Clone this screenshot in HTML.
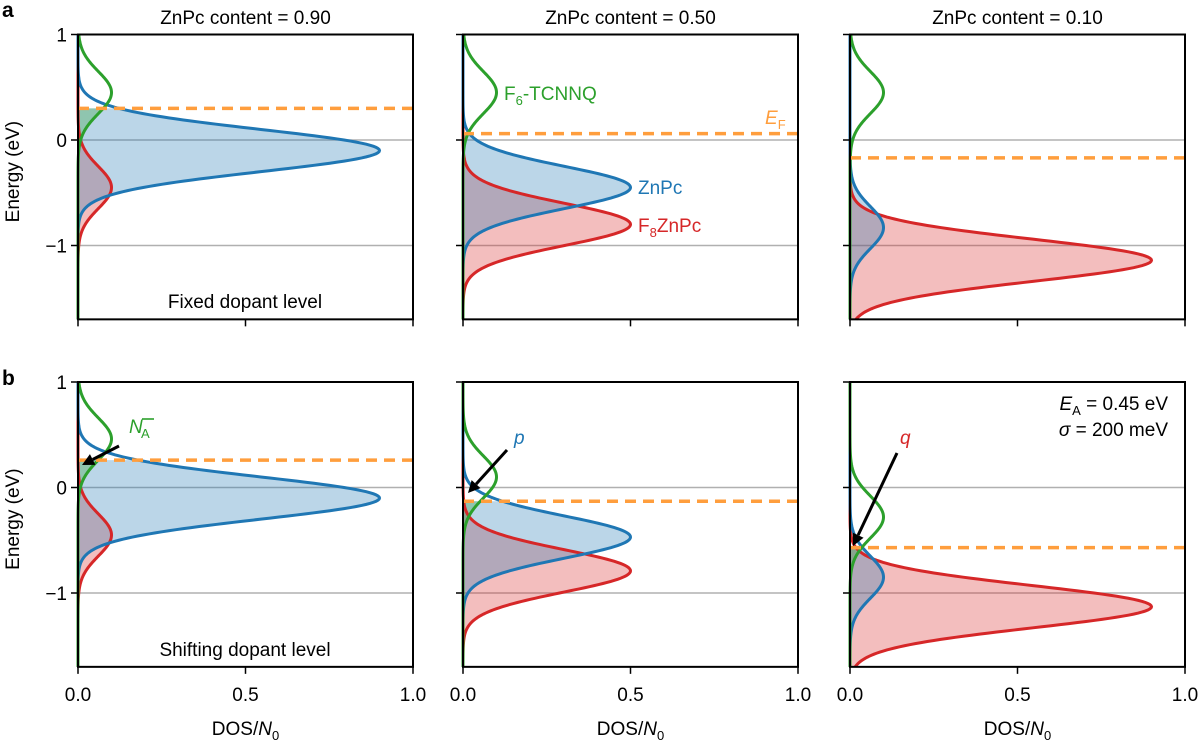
<!DOCTYPE html>
<html><head><meta charset="utf-8"><style>
body{margin:0;background:#fff}
svg{display:block;font-family:"Liberation Sans",Arial,sans-serif}
</style></head><body>
<svg id="fig" width="1200" height="742" viewBox="0 0 1200 742" xmlns="http://www.w3.org/2000/svg"></svg>
<script>
const contents = ["0.90", "0.50", "0.10"];
const znpcAmp = [[0.9, 0.5, 0.1], [0.9, 0.5, 0.1]];
const znpcE = [[-0.1, -0.45, -0.83], [-0.1, -0.47, -0.85]];
const f8Amp = [[0.1, 0.5, 0.9], [0.1, 0.5, 0.9]];
const f8E = [[-0.45, -0.8, -1.14], [-0.45, -0.79, -1.13]];
const dopAmp = [[0.1, 0.1, 0.1], [0.1, 0.1, 0.1]];
const dopE = [[0.45, 0.45, 0.45], [0.46, 0.1, -0.28]];
const fermiE = [[0.3, 0.06, -0.17], [0.26, -0.13, -0.57]];
const sigma = 0.2;
const yTicks = [1, 0, -1];
const yTickLabels = ["1", "0", "\u22121"];
const xTicks = [0, 0.5, 1];
const xTickLabels = ["0.0", "0.5", "1.0"];

const svg = document.getElementById('fig');
const NS = 'http://www.w3.org/2000/svg';
function mk(tag, attrs, parent) {
  const e = document.createElementNS(NS, tag);
  for (const k in attrs) e.setAttribute(k, attrs[k]);
  (parent || svg).appendChild(e);
  return e;
}
const FS = 19;
const colX0 = [78, 463, 850], colW = 335;
const rowY0 = [140, 487.5], pxPerEV = 105.5;
const yTop = 1, yBot = -1.7;
function gauss(E, a, e0) { return a * Math.exp(-(E - e0) * (E - e0) / (2 * sigma * sigma)); }

for (let r = 0; r < 2; r++) {
  for (let c = 0; c < 3; c++) {
    const x0 = colX0[c];
    const X = v => x0 + v * colW;
    const Y = e => rowY0[r] - e * pxPerEV;
    const g = mk('g', {});
    
    
    [0, -1].forEach(v => {
      const l = mk('line', {x1: X(0), x2: X(1), y1: Y(v), y2: Y(v), stroke: '#b0b0b0', 'stroke-width': 1.5}, g);
      
      
    });
    const series = [
      {a: f8Amp[r][c], e: f8E[r][c], col: '#d62728', fill: 'rgba(214,39,40,0.3)', n: 'f8znpc'},
      {a: znpcAmp[r][c], e: znpcE[r][c], col: '#1f77b4', fill: 'rgba(31,119,180,0.3)', n: 'znpc'},
      {a: dopAmp[r][c], e: dopE[r][c], col: '#2ca02c', fill: 'rgba(44,160,44,0.3)', n: 'f6tcnnq'}
    ];
    const ef = fermiE[r][c];
    series.forEach(s => {
      let d = 'M' + X(0) + ',' + Y(ef);
      for (let E = ef; E >= yBot - 1e-9; E -= 0.01) d += 'L' + X(gauss(E, s.a, s.e)).toFixed(2) + ',' + Y(E).toFixed(2);
      d += 'L' + X(0) + ',' + Y(yBot) + 'Z';
      const f = mk('path', {d: d, fill: s.fill, stroke: 'none'}, g);
      
      
    });
    series.forEach(s => {
      let d = '';
      for (let E = yTop; E >= yBot - 1e-9; E -= 0.01) d += (d ? 'L' : 'M') + X(gauss(E, s.a, s.e)).toFixed(2) + ',' + Y(E).toFixed(2);
      const p = mk('path', {d: d, fill: 'none', stroke: s.col, 'stroke-width': 3}, g);
      
      
    });
    const fl = mk('line', {x1: X(0), x2: X(1), y1: Y(ef), y2: Y(ef), stroke: '#ff9e3d', 'stroke-width': 3.5, 'stroke-dasharray': '11,7'}, g);
    
    
    const fr = mk('rect', {x: X(0), y: Y(yTop), width: colW, height: (yTop - yBot) * pxPerEV, fill: 'none', stroke: '#000', 'stroke-width': 2}, g);
    
    
    yTicks.forEach((v, i) => {
      mk('line', {x1: X(0) - 7, x2: X(0), y1: Y(v), y2: Y(v), stroke: '#000', 'stroke-width': 1.5}, g);
      if (c === 0) {
        const t = mk('text', {x: X(0) - 11, y: Y(v) + 7, 'text-anchor': 'end', 'font-size': FS}, g);
        t.textContent = yTickLabels[i];
        
        
      }
    });
    xTicks.forEach((v, i) => {
      mk('line', {x1: X(v), x2: X(v), y1: Y(yBot), y2: Y(yBot) + 7, stroke: '#000', 'stroke-width': 1.5}, g);
      if (r === 1) {
        const t = mk('text', {x: X(v), y: 701, 'text-anchor': 'middle', 'font-size': FS}, g);
        t.textContent = xTickLabels[i];
        
        
      }
    });
    if (r === 0) {
      const t = mk('text', {x: X(0.5), y: 24, 'text-anchor': 'middle', 'font-size': FS}, g);
      t.textContent = 'ZnPc content = ' + contents[c];
      
      
    }
    if (r === 1) {
      const t = mk('text', {x: X(0.5), y: 735, 'text-anchor': 'middle', 'font-size': FS}, g);
      t.innerHTML = 'DOS/<tspan font-style="italic">N</tspan><tspan font-size="13" dy="5">0</tspan>';
      
      
    }
    if (c === 0) {
      const t = mk('text', {x: 0, y: 0, 'text-anchor': 'middle', 'font-size': FS, transform: 'translate(19,' + Y(-0.3) + ') rotate(-90)'}, g);
      t.textContent = 'Energy (eV)';
      
      
    }
  }
}
function txt(x, y, html, attrs, name) {
  const t = mk('text', Object.assign({x: x, y: y, 'font-size': FS}, attrs || {}));
  t.innerHTML = html;
  
  
  return t;
}
txt(2, 17, 'a', {'font-size': 21, 'font-weight': 'bold'}, 'panel-label-a');
txt(2, 385, 'b', {'font-size': 21, 'font-weight': 'bold'}, 'panel-label-b');
txt(245, 308, 'Fixed dopant level', {'text-anchor': 'middle'}, 'annotation-fixed');
txt(245, 656, 'Shifting dopant level', {'text-anchor': 'middle'}, 'annotation-shifting');
txt(504, 100, 'F<tspan font-size="13" dy="5">6</tspan><tspan dy="-5">-TCNNQ</tspan>', {fill: '#2ca02c'}, 'label-f6tcnnq');
txt(765, 124, '<tspan font-style="italic">E</tspan><tspan font-size="13" dy="5">F</tspan>', {fill: '#ff9e3d'}, 'label-fermi');
txt(638, 194, 'ZnPc', {fill: '#1f77b4'}, 'label-znpc');
txt(638, 232, 'F<tspan font-size="13" dy="5">8</tspan><tspan dy="-5">ZnPc</tspan>', {fill: '#d62728'}, 'label-f8znpc');
txt(1168, 410, '<tspan font-style="italic">E</tspan><tspan font-size="13" dy="5">A</tspan><tspan dy="-5"> = 0.45 eV</tspan>', {'text-anchor': 'end'}, 'label-ea');
txt(1168, 436, '<tspan font-style="italic">σ</tspan> = 200 meV', {'text-anchor': 'end'}, 'label-sigma');
txt(129, 433, 'N', {fill: '#2ca02c', 'font-style': 'italic'}, 'label-na');
txt(141, 438, 'A', {fill: '#2ca02c', 'font-size': 13}, 'label-na-subscript');
const bar = mk('line', {x1: 142, x2: 154, y1: 419, y2: 419, stroke: '#2ca02c', 'stroke-width': 1.6});


txt(514, 444, 'p', {fill: '#1f77b4', 'font-style': 'italic'}, 'label-p');
txt(900, 444, 'q', {fill: '#d62728', 'font-style': 'italic'}, 'label-q');
function arrow(x1, y1, x2, y2, name) {
  const g = mk('g', {});
  
  
  const a = Math.atan2(y2 - y1, x2 - x1), L = 12, W = 6;
  const bx = x2 - L * Math.cos(a), by = y2 - L * Math.sin(a);
  mk('line', {x1: x1, y1: y1, x2: bx, y2: by, stroke: '#000', 'stroke-width': 3}, g);
  mk('polygon', {points: x2 + ',' + y2 + ' ' + (bx + W * Math.sin(a)) + ',' + (by - W * Math.cos(a)) + ' ' + (bx - W * Math.sin(a)) + ',' + (by + W * Math.cos(a)), fill: '#000'}, g);
}
arrow(119, 446, 82, 465, 'arrow-na');
arrow(507, 450, 468, 493, 'arrow-p');
arrow(897, 453, 853, 546, 'arrow-q');
</script>
</body></html>
